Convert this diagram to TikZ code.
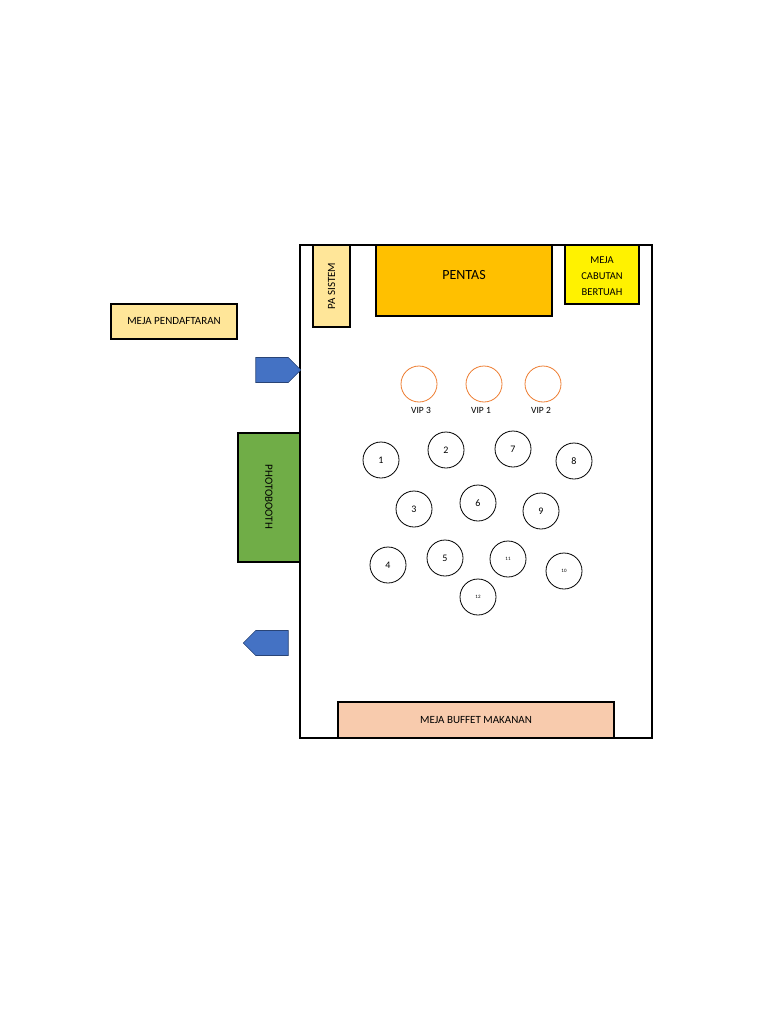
\documentclass[tikz,border=0pt]{standalone}
\usepackage{fontspec}
\setmainfont{Carlito}
\usetikzlibrary{shapes.arrows}
\definecolor{lyel}{HTML}{FFE699}
\definecolor{gold}{HTML}{FFC000}
\definecolor{grn}{HTML}{70AD47}
\definecolor{pch}{HTML}{F8CBAD}
\definecolor{blu}{HTML}{4472C4}
\definecolor{org}{HTML}{ED7D31}
\begin{document}
\begin{tikzpicture}[x=1pt,y=-1pt,
  box/.style={draw=black,line width=1.6pt},
  tbl/.style={draw=black,circle,minimum size=36pt,inner sep=0pt,line width=0.8pt,font=\fontsize{10}{12}\selectfont},
  stbl/.style={tbl,font=\fontsize{5}{6}\selectfont},
  vip/.style={draw=org,circle,minimum size=36pt,inner sep=0pt,line width=0.8pt},
  lbl/.style={font=\fontsize{9.5}{11}\selectfont},
  arr/.style={single arrow,draw=blu!60!black,fill=blu,minimum height=45pt,minimum width=25pt,single arrow head extend=0pt,inner sep=4pt,line width=0.6pt}]
\useasboundingbox (0,0) rectangle (768,1024);
\draw[box] (300,245) -- (300,738) -- (652,738) -- (652,245) -- cycle;
\draw[box,fill=lyel] (313,245) rectangle (350,327);
\node[lbl,rotate=90,font=\fontsize{11}{13}\selectfont] (pa) at (331.5,286) {PA SISTEM};
\draw[box,fill=gold] (376,245) rectangle (552,316);
\node[font=\fontsize{14}{16}\selectfont] (pentas) at (464,275) {PENTAS};
\draw[box,fill=yellow] (565,245) rectangle (639,304);
\node[align=center,font=\fontsize{10.5}{16}\selectfont] (cab) at (602,276) {MEJA\\CABUTAN\\BERTUAH};
\draw[box,fill=lyel] (111,304) rectangle (237,339);
\node[font=\fontsize{11}{13}\selectfont] (daftar) at (174,321.5) {MEJA PENDAFTARAN};
\draw[box,fill=grn] (238,433) rectangle (300,562);
\node[rotate=-90,font=\fontsize{11}{13}\selectfont] (photo) at (269,497) {PHOTOBOOTH};
\draw[box,fill=pch] (338,702) rectangle (614,738);
\node[font=\fontsize{11}{13}\selectfont] (buffet) at (476,720) {MEJA BUFFET MAKANAN};
\node[arr] (ain) at (272,370) {};
\node[arr,shape border rotate=180] (aout) at (272,643) {};
\node[vip] (v3) at (419,384) {}; \node[lbl] (v3l) at (421,410) {VIP 3};
\node[vip] (v1) at (484,384) {}; \node[lbl] (v1l) at (481,410) {VIP 1};
\node[vip] (v2) at (543,384) {}; \node[lbl] (v2l) at (541,410) {VIP 2};
\node[tbl] (t1) at (381,460) {1};
\node[tbl] (t2) at (446,450) {2};
\node[tbl] (t7) at (513,449) {7};
\node[tbl] (t8) at (574,461) {8};
\node[tbl] (t3) at (414,509) {3};
\node[tbl] (t6) at (478,503) {6};
\node[tbl] (t9) at (541,511) {9};
\node[tbl] (t4) at (388,565) {4};
\node[tbl] (t5) at (445,558) {5};
\node[stbl] (t11) at (508,559) {11};
\node[stbl] (t10) at (564,571) {10};
\node[stbl] (t12) at (478,597) {12};
\end{tikzpicture}
\end{document}
